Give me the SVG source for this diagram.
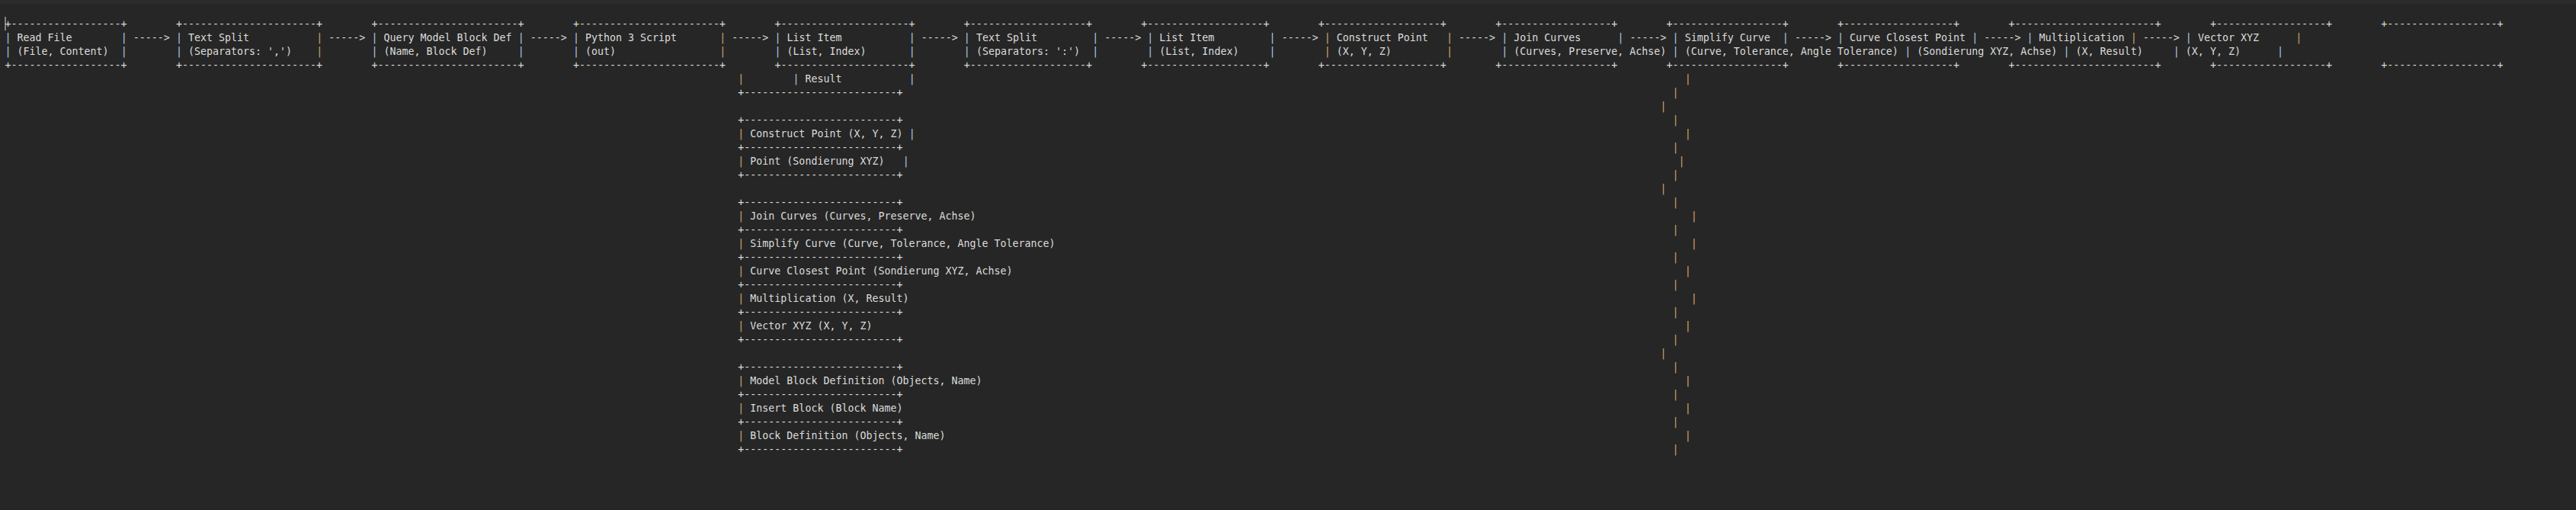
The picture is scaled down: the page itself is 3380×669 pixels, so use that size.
<svg xmlns="http://www.w3.org/2000/svg" width="3380" height="669" viewBox="0 0 3380 669" xml:space="preserve">
<style>
text { font-family: "DejaVu Sans Mono", "Liberation Mono", monospace; font-size: 13.31px; fill: #dcdcdc; white-space: pre; }
.o { fill: #d4a36a; }
.b { fill: #aecbe6; }
</style>
<rect x="0" y="0" width="3380" height="669" fill="#262626"/>
<rect x="0" y="0" width="3380" height="5" fill="#2c2c2c"/>
<line x1="7" y1="22" x2="7" y2="40" stroke="#e0e0e0" stroke-width="1"/>

<g id="node-read-file">
<text x="6.5" y="35.8">+------------------+</text>
<text class="b" x="6.5" y="53.8">|</text><text x="22.53" y="53.8">Read File</text><text class="b" x="158.79" y="53.8">|</text>
<text class="b" x="6.5" y="71.8">|</text><text x="22.53" y="71.8">(File, Content)</text><text class="b" x="158.79" y="71.8">|</text>
<text x="6.5" y="89.8">+------------------+</text>
</g>

<g id="node-text-split-1">
<text x="230.92" y="35.8">+----------------------+</text>
<text class="b" x="230.92" y="53.8">|</text><text x="246.95" y="53.8">Text Split</text><text class="o" x="415.27" y="53.8">|</text>
<text class="b" x="230.92" y="71.8">|</text><text x="246.95" y="71.8">(Separators: ',')</text><text class="o" x="415.27" y="71.8">|</text>
<text x="230.92" y="89.8">+----------------------+</text>
</g>

<g id="node-query-model-block-def">
<text x="487.4" y="35.8">+-----------------------+</text>
<text class="b" x="487.4" y="53.8">|</text><text x="503.43" y="53.8">Query Model Block Def</text><text class="b" x="679.76" y="53.8">|</text>
<text class="b" x="487.4" y="71.8">|</text><text x="503.43" y="71.8">(Name, Block Def)</text><text class="b" x="679.76" y="71.8">|</text>
<text x="487.4" y="89.8">+-----------------------+</text>
</g>

<g id="node-python-script">
<text x="751.9" y="35.8">+-----------------------+</text>
<text class="b" x="751.9" y="53.8">|</text><text x="767.93" y="53.8">Python 3 Script</text><text class="o" x="944.26" y="53.8">|</text>
<text class="b" x="751.9" y="71.8">|</text><text x="767.93" y="71.8">(out)</text><text class="o" x="944.26" y="71.8">|</text>
<text x="751.9" y="89.8">+-----------------------+</text>
</g>

<g id="node-list-item-1">
<text x="1016.39" y="35.8">+---------------------+</text>
<text class="b" x="1016.39" y="53.8">|</text><text x="1032.42" y="53.8">List Item</text><text class="b" x="1192.72" y="53.8">|</text>
<text class="b" x="1016.39" y="71.8">|</text><text x="1032.42" y="71.8">(List, Index)</text><text class="b" x="1192.72" y="71.8">|</text>
<text x="1016.39" y="89.8">+---------------------+</text>
</g>

<g id="node-result">
<text class="o" x="968.3" y="107.8">|</text><text class="b" x="1040.44" y="107.8">|</text><text x="1056.47" y="107.8">Result</text><text class="b" x="1192.72" y="107.8">|</text>
<text x="968.3" y="125.8">+-------------------------+</text>
</g>

<g id="node-text-split-2">
<text x="1264.86" y="35.8">+-------------------+</text>
<text class="b" x="1264.86" y="53.8">|</text><text x="1280.89" y="53.8">Text Split</text><text class="b" x="1433.17" y="53.8">|</text>
<text class="b" x="1264.86" y="71.8">|</text><text x="1280.89" y="71.8">(Separators: ':')</text><text class="b" x="1433.17" y="71.8">|</text>
<text x="1264.86" y="89.8">+-------------------+</text>
</g>

<g id="node-list-item-2">
<text x="1497.29" y="35.8">+-------------------+</text>
<text class="b" x="1505.31" y="53.8">|</text><text x="1521.34" y="53.8">List Item</text><text class="b" x="1665.61" y="53.8">|</text>
<text class="b" x="1505.31" y="71.8">|</text><text x="1521.34" y="71.8">(List, Index)</text><text class="b" x="1665.61" y="71.8">|</text>
<text x="1497.29" y="89.8">+-------------------+</text>
</g>

<g id="node-construct-point">
<text x="1729.73" y="35.8">+-------------------+</text>
<text class="o" x="1737.74" y="53.8">|</text><text x="1753.77" y="53.8">Construct Point</text><text class="o" x="1898.04" y="53.8">|</text>
<text class="o" x="1737.74" y="71.8">|</text><text x="1753.77" y="71.8">(X, Y, Z)</text><text class="o" x="1898.04" y="71.8">|</text>
<text x="1729.73" y="89.8">+-------------------+</text>
</g>

<g id="node-join-curves">
<text x="1962.16" y="35.8">+------------------+</text>
<text class="b" x="1970.18" y="53.8">|</text><text x="1986.21" y="53.8">Join Curves</text><text class="b" x="2122.46" y="53.8">|</text>
<text class="b" x="1970.18" y="71.8">|</text><text x="1986.21" y="71.8">(Curves, Preserve, Achse)</text>
<text x="1962.16" y="89.8">+------------------+</text>
</g>

<g id="node-simplify-curve">
<text x="2186.58" y="35.8">+------------------+</text>
<text class="b" x="2194.6" y="53.8">|</text><text x="2210.63" y="53.8">Simplify Curve</text><text class="b" x="2338.87" y="53.8">|</text>
<text class="b" x="2194.6" y="71.8">|</text><text x="2210.63" y="71.8">(Curve, Tolerance, Angle Tolerance)</text>
<text x="2186.58" y="89.8">+------------------+</text>
</g>

<g id="node-curve-closest-point">
<text x="2411" y="35.8">+------------------+</text>
<text class="b" x="2411" y="53.8">|</text><text x="2427.03" y="53.8">Curve Closest Point</text><text class="b" x="2587.33" y="53.8">|</text>
<text class="b" x="2499.17" y="71.8">|</text><text x="2515.2" y="71.8">(Sondierung XYZ, Achse)</text>
<text x="2411" y="89.8">+------------------+</text>
</g>

<g id="node-multiplication">
<text x="2635.42" y="35.8">+-----------------------+</text>
<text class="b" x="2659.47" y="53.8">|</text><text x="2675.5" y="53.8">Multiplication</text><text class="o" x="2795.72" y="53.8">|</text>
<text class="b" x="2707.56" y="71.8">|</text><text x="2723.59" y="71.8">(X, Result)</text>
<text x="2635.42" y="89.8">+-----------------------+</text>
</g>

<g id="node-vector-xyz">
<text x="2899.92" y="35.8">+------------------+</text>
<text class="b" x="2867.86" y="53.8">|</text><text x="2883.89" y="53.8">Vector XYZ</text><text class="o" x="3012.13" y="53.8">|</text>
<text class="b" x="2851.83" y="71.8">|</text><text x="2867.86" y="71.8">(X, Y, Z)</text><text class="b" x="2988.08" y="71.8">|</text>
<text x="2899.92" y="89.8">+------------------+</text>
</g>

<g id="node-empty-box">
<text x="3124.34" y="35.8">+------------------+</text>
<text x="3124.34" y="89.8">+------------------+</text>
</g>

<g id="node-construct-point-xyz">
<text x="968.3" y="161.8">+-------------------------+</text>
<text class="o" x="968.3" y="179.8">|</text><text x="984.33" y="179.8">Construct Point (X, Y, Z)</text><text class="b" x="1192.72" y="179.8">|</text>
</g>

<g id="node-point">
<text x="968.3" y="197.8">+-------------------------+</text>
<text class="o" x="968.3" y="215.8">|</text><text x="984.33" y="215.8">Point (Sondierung XYZ)</text><text class="b" x="1184.71" y="215.8">|</text>
<text x="968.3" y="233.8">+-------------------------+</text>
</g>

<g id="node-join-curves-2">
<text x="968.3" y="269.8">+-------------------------+</text>
<text class="o" x="968.3" y="287.8">|</text><text x="984.33" y="287.8">Join Curves (Curves, Preserve, Achse)</text>
</g>

<g id="node-simplify-curve-2">
<text x="968.3" y="305.8">+-------------------------+</text>
<text class="o" x="968.3" y="323.8">|</text><text x="984.33" y="323.8">Simplify Curve (Curve, Tolerance, Angle Tolerance)</text>
</g>

<g id="node-curve-closest-point-2">
<text x="968.3" y="341.8">+-------------------------+</text>
<text class="o" x="968.3" y="359.8">|</text><text x="984.33" y="359.8">Curve Closest Point (Sondierung XYZ, Achse)</text>
</g>

<g id="node-multiplication-2">
<text x="968.3" y="377.8">+-------------------------+</text>
<text class="o" x="968.3" y="395.8">|</text><text x="984.33" y="395.8">Multiplication (X, Result)</text>
</g>

<g id="node-vector-xyz-2">
<text x="968.3" y="413.8">+-------------------------+</text>
<text class="o" x="968.3" y="431.8">|</text><text x="984.33" y="431.8">Vector XYZ (X, Y, Z)</text>
<text x="968.3" y="449.8">+-------------------------+</text>
</g>

<g id="node-model-block-definition">
<text x="968.3" y="485.8">+-------------------------+</text>
<text class="o" x="968.3" y="503.8">|</text><text x="984.33" y="503.8">Model Block Definition (Objects, Name)</text>
</g>

<g id="node-insert-block">
<text x="968.3" y="521.8">+-------------------------+</text>
<text class="o" x="968.3" y="539.8">|</text><text x="984.33" y="539.8">Insert Block (Block Name)</text>
</g>

<g id="node-block-definition">
<text x="968.3" y="557.8">+-------------------------+</text>
<text class="o" x="968.3" y="575.8">|</text><text x="984.33" y="575.8">Block Definition (Objects, Name)</text>
<text x="968.3" y="593.8">+-------------------------+</text>
</g>

<g id="connectors">
<text x="174.82" y="53.8">-----&gt;</text>
<text x="431.3" y="53.8">-----&gt;</text>
<text x="695.79" y="53.8">-----&gt;</text>
<text x="960.29" y="53.8">-----&gt;</text>
<text x="1208.75" y="53.8">-----&gt;</text>
<text x="1449.2" y="53.8">-----&gt;</text>
<text x="1681.64" y="53.8">-----&gt;</text>
<text x="1914.07" y="53.8">-----&gt;</text>
<text x="2138.49" y="53.8">-----&gt;</text>
<text x="2354.9" y="53.8">-----&gt;</text>
<text x="2603.36" y="53.8">-----&gt;</text>
<text x="2811.75" y="53.8">-----&gt;</text>
<g id="vertical-link">
<text class="o" x="2210.63" y="107.8">|</text>
<text class="o" x="2194.6" y="125.8">|</text>
<text class="o" x="2178.57" y="143.8">|</text>
<text class="o" x="2194.6" y="161.8">|</text>
<text class="o" x="2210.63" y="179.8">|</text>
<text class="o" x="2194.6" y="197.8">|</text>
<text class="o" x="2202.61" y="215.8">|</text>
<text class="o" x="2194.6" y="233.8">|</text>
<text class="o" x="2178.57" y="251.8">|</text>
<text class="o" x="2194.6" y="269.8">|</text>
<text class="o" x="2218.64" y="287.8">|</text>
<text class="o" x="2194.6" y="305.8">|</text>
<text class="o" x="2218.64" y="323.8">|</text>
<text class="o" x="2194.6" y="341.8">|</text>
<text class="o" x="2210.63" y="359.8">|</text>
<text class="o" x="2194.6" y="377.8">|</text>
<text class="o" x="2218.64" y="395.8">|</text>
<text class="o" x="2194.6" y="413.8">|</text>
<text class="o" x="2210.63" y="431.8">|</text>
<text class="o" x="2194.6" y="449.8">|</text>
<text class="o" x="2178.57" y="467.8">|</text>
<text class="o" x="2194.6" y="485.8">|</text>
<text class="o" x="2210.63" y="503.8">|</text>
<text class="o" x="2194.6" y="521.8">|</text>
<text class="o" x="2210.63" y="539.8">|</text>
<text class="o" x="2194.6" y="557.8">|</text>
<text class="o" x="2210.63" y="575.8">|</text>
<text class="o" x="2194.6" y="593.8">|</text>
</g>
</g>
</svg>
